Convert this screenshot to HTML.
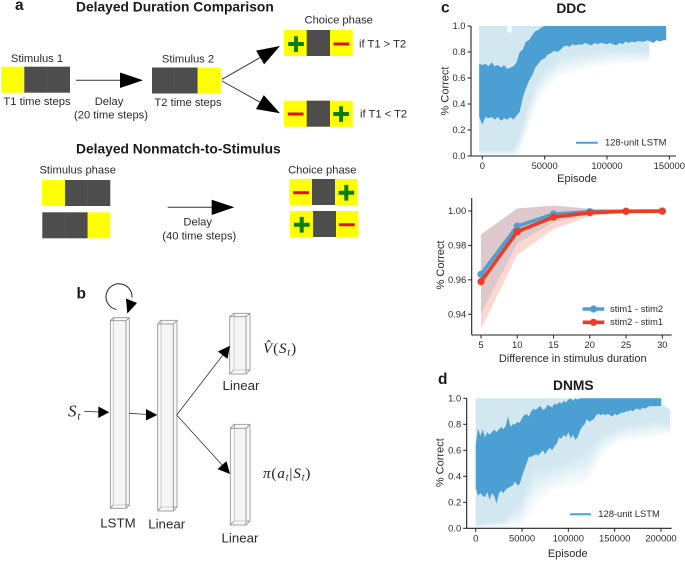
<!DOCTYPE html>
<html lang="en">
<head>
<meta charset="utf-8">
<title>Delayed Duration Comparison and DNMS figure</title>
<style>
html,body{margin:0;padding:0;background:#fff;}
svg{display:block;font-family:"Liberation Sans",sans-serif;fill:#2a2a2a;filter:blur(.3px);}
.t{font-size:11.2px;text-anchor:middle;}
.l{font-size:11.2px;}
.b{font-size:13.3px;text-anchor:middle;}
.h{font-size:13.8px;font-weight:bold;fill:#1a1a1a;}
.p{font-size:15.5px;font-weight:bold;fill:#1a1a1a;}
.m{font-family:"Liberation Serif",serif;font-size:15px;fill:#222;letter-spacing:.9px;}
.tick{font-size:9.4px;fill:#2a2a2a;}
.lab{font-size:11px;fill:#2a2a2a;}
.box{fill:#f2f2f2;fill-opacity:.55;stroke:#8c8c8c;stroke-width:.8;}
</style>
</head>
<body>
<svg id="fig" xmlns="http://www.w3.org/2000/svg" width="685" height="561" viewBox="0 0 685 561">
<rect x="0" y="0" width="685" height="561" fill="#fff"/>

<g>
  <text class="p" x="15" y="10">a</text>
  <text class="h" x="76" y="11.5">Delayed Duration Comparison</text>

  <text class="t" x="37" y="62">Stimulus 1</text>
  <g>
    <rect x="1.3" y="66.7" width="23" height="26" fill="#ffff00"/>
    <rect x="24.3" y="66.7" width="45.7" height="26" fill="#4d4d4d"/>
    <line x1="47" y1="66.7" x2="47" y2="92.7" stroke="#5c5c5c" stroke-width=".6"/>
  </g>
  <text class="t" x="37" y="105">T1 time steps</text>
  <g>
    <line x1="76" y1="80.3" x2="122" y2="80.3" stroke="#333" stroke-width="1"/>
    <polygon points="120,72.5 143,80.3 120,88" fill="#000"/>
  </g>
  <text class="t" x="109" y="105">Delay</text>
  <text class="t" x="111" y="118.7">(20 time steps)</text>

  <text class="t" x="188" y="62.5">Stimulus 2</text>
  <g>
    <rect x="152" y="67.5" width="45.7" height="26" fill="#4d4d4d"/>
    <line x1="174.5" y1="67.5" x2="174.5" y2="93.5" stroke="#5c5c5c" stroke-width=".6"/>
    <rect x="197.7" y="67.5" width="23" height="26" fill="#ffff00"/>
  </g>
  <text class="t" x="188" y="106">T2 time steps</text>

  <g>
    <line x1="222" y1="79.3" x2="262" y2="56.5" stroke="#333" stroke-width="1"/>
    <polygon points="280,46 264.1,64.4 256.1,50.6" fill="#000"/>
  </g>
  <g>
    <line x1="222" y1="81" x2="262" y2="103.3" stroke="#333" stroke-width="1"/>
    <polygon points="280,113.3 256,109.1 263.8,95.1" fill="#000"/>
  </g>

  <text class="t" x="338.7" y="23.3">Choice phase</text>
  <g>
    <rect x="284" y="30" width="68.7" height="26" fill="#ffff00"/>
    <rect x="306.7" y="30" width="23.3" height="26" fill="#4d4d4d"/>
    <path d="M288.2 44h15.7M296 36.2v15.7" stroke="#0a7d0a" stroke-width="4" fill="none"/>
    <path d="M333.5 44h15.7" stroke="#d81010" stroke-width="3" fill="none"/>
  </g>
  <text class="l" x="359" y="47.3">if T1 &gt; T2</text>
  <g>
    <rect x="284" y="100.7" width="68.7" height="26" fill="#ffff00"/>
    <rect x="306.7" y="100.7" width="23.3" height="26" fill="#4d4d4d"/>
    <path d="M287.8 114h15.7" stroke="#d81010" stroke-width="3" fill="none"/>
    <path d="M333.2 114h15.7M341 106.2v15.7" stroke="#0a7d0a" stroke-width="4" fill="none"/>
  </g>
  <text class="l" x="360" y="117.3">if T1 &lt; T2</text>

  <text class="h" x="76" y="153.5">Delayed Nonmatch-to-Stimulus</text>
  <text class="t" x="77.7" y="173.3">Stimulus phase</text>
  <g>
    <rect x="42" y="180" width="23" height="26" fill="#ffff00"/>
    <rect x="65" y="180" width="45.3" height="26" fill="#4d4d4d"/>
    <line x1="87.7" y1="180" x2="87.7" y2="206" stroke="#5c5c5c" stroke-width=".6"/>
  </g>
  <g>
    <rect x="42.3" y="212.3" width="45.4" height="26" fill="#4d4d4d"/>
    <line x1="65" y1="212.3" x2="65" y2="238.3" stroke="#5c5c5c" stroke-width=".6"/>
    <rect x="87.7" y="212.3" width="22.6" height="26" fill="#ffff00"/>
  </g>
  <g>
    <line x1="167.7" y1="207.3" x2="213" y2="207.3" stroke="#333" stroke-width="1"/>
    <polygon points="211.7,199.8 234.3,207.3 211.7,215" fill="#000"/>
  </g>
  <text class="t" x="197.7" y="225.7">Delay</text>
  <text class="t" x="199.3" y="239.3">(40 time steps)</text>
  <text class="t" x="322.3" y="173.3">Choice phase</text>
  <g>
    <rect x="289.3" y="179" width="68.4" height="26" fill="#ffff00"/>
    <rect x="312" y="179" width="23" height="26" fill="#4d4d4d"/>
    <path d="M293.2 192.7h15.7" stroke="#d81010" stroke-width="3" fill="none"/>
    <path d="M338.5 192.7h15.7M346.3 184.9v15.7" stroke="#0a7d0a" stroke-width="4" fill="none"/>
  </g>
  <g>
    <rect x="290" y="211" width="68.4" height="26" fill="#ffff00"/>
    <rect x="313" y="211" width="23" height="26" fill="#4d4d4d"/>
    <path d="M293.9 224.7h15.7M301.7 216.9v15.7" stroke="#0a7d0a" stroke-width="4" fill="none"/>
    <path d="M338.9 224.7h15.7" stroke="#d81010" stroke-width="3" fill="none"/>
  </g>
</g>

<g>
  <text class="p" x="76.5" y="298.5">b</text>
  <g>
    <path d="M116.5 309.5A13 13 0 1 1 132 297.5" fill="none" stroke="#222" stroke-width="1"/>
    <polygon points="126,298.5 137,303 127.3,313.5" fill="#000"/>
  </g>
  <g>
    <rect class="box" x="113.3" y="317.7" width="16" height="187.3"/>
    <rect class="box" x="110.3" y="320.7" width="15.7" height="187.6"/>
    <path class="box" d="M110.3 320.7L113.3 317.7M126 320.7L129.3 317.7M126 508.3L129.3 505M110.3 508.3L113.3 505"/>
  </g>
  <g>
    <rect class="box" x="161" y="320.3" width="16" height="186.7"/>
    <rect class="box" x="157.7" y="324" width="15.6" height="187"/>
    <path class="box" d="M157.7 324L161 320.3M173.3 324L177 320.3M173.3 511L177 507M157.7 511L161 507"/>
  </g>
  <g>
    <rect class="box" x="234" y="313.3" width="16" height="56.7"/>
    <rect class="box" x="229.7" y="316.7" width="16.3" height="57.3"/>
    <path class="box" d="M229.7 316.7L234 313.3M246 316.7L250 313.3M246 374L250 370M229.7 374L234 370"/>
  </g>
  <g>
    <rect class="box" x="234.3" y="424.3" width="15.7" height="96.7"/>
    <rect class="box" x="230.3" y="428.3" width="15.7" height="96.7"/>
    <path class="box" d="M230.3 428.3L234.3 424.3M246 428.3L250 424.3M246 525L250 521M230.3 525L234.3 521"/>
  </g>
  <g>
    <line x1="84.3" y1="411.3" x2="100" y2="412" stroke="#333" stroke-width=".8"/>
    <polygon points="98.3,406.5 109.3,412.3 98.3,418" fill="#000"/>
  </g>
  <g>
    <line x1="129" y1="413.3" x2="148" y2="414.5" stroke="#333" stroke-width=".8"/>
    <polygon points="146,409 157.3,415 146,420.5" fill="#000"/>
  </g>
  <g>
    <line x1="176.7" y1="415" x2="224" y2="353.5" stroke="#333" stroke-width=".8"/>
    <polygon points="230,345.7 227.5,358.9 217.9,351.5" fill="#000"/>
  </g>
  <g>
    <line x1="176.7" y1="415" x2="223" y2="466" stroke="#333" stroke-width=".8"/>
    <polygon points="230,474 217.5,469.1 226.5,461.1" fill="#000"/>
  </g>
  <text class="b" x="118" y="527.7">LSTM</text>
  <text class="b" x="166.7" y="528.3">Linear</text>
  <text class="b" x="241" y="390">Linear</text>
  <text class="b" x="240" y="542.3">Linear</text>
  <text class="m" x="68" y="416.7" style="font-size:17px;font-style:italic">S<tspan dy="3" style="font-size:11px">t</tspan></text>
  <text class="m" x="263" y="353"><tspan font-style="italic">V&#770;</tspan>(<tspan font-style="italic">S</tspan><tspan dy="2.5" font-size="10" font-style="italic">t</tspan><tspan dy="-2.5">)</tspan></text>
  <text class="m" x="263" y="478"><tspan font-style="italic">π</tspan>(<tspan font-style="italic">a</tspan><tspan dy="2.5" font-size="10" font-style="italic">t</tspan><tspan dy="-2.5">|</tspan><tspan font-style="italic">S</tspan><tspan dy="2.5" font-size="10" font-style="italic">t</tspan><tspan dy="-2.5">)</tspan></text>
</g>

<text class="p" x="441" y="12.5">c</text>
<text class="h" style="text-anchor:middle" x="571.3" y="13">DDC</text>
<g id="chartC"></g>
<g id="chartM"></g>
<text class="p" x="438" y="384">d</text>
<text class="h" style="text-anchor:middle" x="573.3" y="390">DNMS</text>
<g id="chartD"></g>
</svg>

<script>
// ---------- DDC learning curve ----------
const ddcEpisodes = [-2500,0,2500,5000,7500,10000,12500,15000,17500,20000,22500,25000,27500,30000,32500,35000,37500,40000,42500,45000,47500,50000,52500,55000,57500,60000,62500,65000,67500,70000,72500,75000,77500,80000,82500,85000,87500,90000,92500,95000,97500,100000,102500,105000,107500,110000,112500,115000,117500,120000,122500,125000,127500,130000,132500,135000,137500,140000,142500,145000,147500];
const ddcUpper = [.71,.70,.71,.69,.72,.69,.70,.68,.70,.67,.68,.69,.72,.80,.82,.88,.89,.93,.96,.97,.99,1,1,1,1,1,1,1,1,1,1,1,1,1,1,1,1,1,1,1,1,1,1,1,1,1,1,1,1,1,1,1,1,1,1,1,1,1,1,1,1];
const ddcLower = [.30,.24,.30,.29,.30,.28,.30,.27,.29,.28,.30,.28,.31,.34,.45,.52,.58,.62,.68,.71,.74,.75,.78,.79,.81,.80,.815,.84,.85,.84,.86,.85,.86,.855,.87,.86,.85,.87,.86,.87,.865,.86,.87,.86,.85,.87,.86,.88,.87,.88,.875,.885,.88,.88,.89,.88,.87,.89,.88,.89,.89];
const ddcLightEpisodes = [-2500,18000,20000,20001,23500,23501,25000,30000,38000,43500,50000,62000,84000,110000,134000];
const ddcLightUpper = [1,1,1,.95,.95,1,1,1,1,1,1,1,1,.99,.89];
const ddcLightInner = [.04,.04,.04,.04,.04,.04,.05,.17,.43,.58,.66,.76,.80,.815,.80];
const ddcLightOuter = [0,0,0,0,0,0,0,0,.25,.38,.50,.61,.67,.71,.72];
const ddcTicksX = [0,50000,100000,150000];
const ddcTicksY = [0,.2,.4,.6,.8,1];

// ---------- Stimulus duration accuracy ----------
const durations = [5,10,15,20,25,30];
const stim12 = [.9632,.9912,.9982,.9996,.9999,1.0];
const stim12Upper = [.9862,1.0015,1.003,1.0015,1.0005,1.0003];
const stim12Lower = [.9405,.9812,.9935,.998,.9993,.9997];
const stim21 = [.9590,.9880,.9965,.9990,.9998,.9999];
const stim21Upper = [.9865,1.0015,1.0032,1.0012,1.0004,1.0003];
const stim21Lower = [.9315,.9745,.9895,.997,.9992,.9995];
const durTicksY = [.94,.96,.98,1];
const seriesNames = ['stim1 - stim2','stim2 - stim1'];

// ---------- DNMS learning curve ----------
const dnmsEpisodes = [0,2500,5000,7500,10000,12500,15000,17500,20000,22500,25000,27500,30000,32500,35000,37500,40000,42500,45000,47500,50000,52500,55000,57500,60000,62500,65000,67500,70000,72500,75000,77500,80000,82500,85000,87500,90000,92500,95000,97500,100000,102500,105000,107500,110000,112500,115000,117500,120000,122500,125000,127500,130000,132500,135000,137500,140000,142500,145000,147500,150000,152500,155000,157500,160000,162500,165000,167500,170000,172500,175000,177500,180000,182500,185000,187500,190000,192500,195000,197500,200000];
const dnmsUpper = [.64,.77,.71,.76,.70,.74,.72,.74,.76,.74,.76,.78,.76,.79,.86,.78,.80,.80,.82,.81,.85,.87,.88,.86,.90,.92,.91,.93,.94,.91,.92,.95,.94,.93,.96,.95,.97,.96,.98,.97,.99,1,.98,1,.99,1,1,1,1,1,1,1,1,1,1,1,1,1,1,1,1,1,1,1,1,1,1,1,1,1,1,1,1,1,1,1,1,1,1,1,1];
const dnmsLower = [.31,.25,.27,.25,.24,.28,.22,.27,.25,.19,.27,.29,.27,.30,.31,.32,.33,.36,.33,.34,.40,.45,.50,.55,.55,.56,.57,.56,.58,.60,.57,.60,.62,.60,.63,.65,.70,.69,.72,.70,.74,.69,.72,.68,.70,.75,.78,.80,.84,.82,.83,.84,.87,.88,.87,.88,.87,.88,.87,.86,.88,.87,.88,.89,.89,.90,.90,.91,.90,.92,.92,.91,.93,.92,.93,.94,.94,.94,.94,.94,.94];
const dnmsLightEpisodes = [0,30000,48000,62000,84000,102000,120000,138000,156000,192000,201000,202000,210000];
const dnmsLightUpper = [1,1,1,1,1,1,1,1,1,1,1,.95,.91];
const dnmsLightInner = [.03,.06,.19,.45,.47,.53,.60,.73,.78,.83,.83,.82,.80];
const dnmsLightOuter = [0,0,0,.14,.30,.32,.35,.58,.67,.70,.71,.71,.72];
const dnmsTicksX = [0,50000,100000,150000,200000];
const dnmsTicksY = [0,.2,.4,.6,.8,1];

const NS = 'http://www.w3.org/2000/svg';
const BLUE = '#4c9fd3', RED = '#ee3b24';

function mk(parent, tag, props) {
  const e = document.createElementNS(NS, tag);
  for (const k in props) e.setAttribute(k, props[k]);
  parent.appendChild(e);
  return e;
}
function linear(d0, d1, r0, r1) { return v => r0 + (v - d0) * (r1 - r0) / (d1 - d0); }
function bandPoints(xs, upper, lower, sx, sy) {
  const a = xs.map((x, i) => sx(x).toFixed(2) + ',' + sy(upper[i]).toFixed(2));
  const b = xs.map((x, i) => sx(x).toFixed(2) + ',' + sy(lower[i]).toFixed(2)).reverse();
  return a.concat(b).join(' ');
}
function axes(g, o) {
  const left = mk(g, 'line', {x1:o.left, y1:o.top, x2:o.left, y2:o.bottom, stroke:'#222', 'stroke-width':1.1});
  
  
  const base = mk(g, 'line', {x1:o.left, y1:o.bottom, x2:o.right, y2:o.bottom, stroke:'#222', 'stroke-width':1.1});
  
  
  o.ticksY.forEach(v => {
    const y = o.sy(v);
    const tick = mk(g, 'line', {x1:o.left - 3.5, y1:y, x2:o.left, y2:y, stroke:'#222', 'stroke-width':1});
    
    
    const label = mk(g, 'text', {x:o.left - 5.5, y:y + 3.2, class:'tick', 'text-anchor':'end'});
    
    
    label.textContent = v.toFixed(o.digits);
  });
  o.ticksX.forEach(v => {
    const x = o.sx(v);
    const tick = mk(g, 'line', {x1:x, y1:o.bottom, x2:x, y2:o.bottom + 3.5, stroke:'#222', 'stroke-width':1});
    
    
    const label = mk(g, 'text', {x:x, y:o.bottom + 13.2, class:'tick', 'text-anchor':'middle'});
    
    
    label.textContent = String(v);
  });
  const xt = mk(g, 'text', {x:o.xTitle[0], y:o.xTitle[1], class:'lab', 'text-anchor':'middle'});
  
  
  xt.textContent = o.xLabel;
  const yt = mk(g, 'text', {transform:'translate(' + o.yTitle[0] + ',' + o.yTitle[1] + ') rotate(-90)', class:'lab', 'text-anchor':'middle'});
  
  
  yt.textContent = '% Correct';
}
function learningChart(g, o) {
  const layers = 8;
  for (let k = 1; k <= layers; k++) {
    const edge = o.lightOuter.map((v, i) => v + (o.lightInner[i] - v) * (k - 1) / (layers - 1));
    const shade = mk(g, 'polygon', {points: bandPoints(o.lightX, o.lightUpper, edge, o.sx, o.sy), fill: BLUE, 'fill-opacity': .037});
    
    
  }
  const band = mk(g, 'polygon', {points: bandPoints(o.xs, o.upper, o.lower, o.sx, o.sy), fill: BLUE});
  
  
  axes(g, o);
  const key = mk(g, 'line', {x1:o.legend[0], y1:o.legend[2], x2:o.legend[1], y2:o.legend[2], stroke:BLUE, 'stroke-width':2});
  
  
  const txt = mk(g, 'text', {x:o.legend[1] + 7.3, y:o.legend[2] + 2.9, class:'tick'});
  
  
  txt.textContent = '128-unit LSTM';
}

learningChart(document.getElementById('chartC'), {
  xs: ddcEpisodes, upper: ddcUpper, lower: ddcLower,
  lightX: ddcLightEpisodes, lightUpper: ddcLightUpper, lightInner: ddcLightInner, lightOuter: ddcLightOuter,
  sx: linear(0, 150000, 482.3, 669.3), sy: linear(0, 1, 156, 26),
  left: 471, right: 676, top: 26, bottom: 156,
  ticksX: ddcTicksX, ticksY: ddcTicksY, digits: 1,
  xLabel: 'Episode', xTitle: [577, 182], yTitle: [448.5, 91],
  legend: [576, 597.7, 142.7]
});
learningChart(document.getElementById('chartD'), {
  xs: dnmsEpisodes, upper: dnmsUpper, lower: dnmsLower,
  lightX: dnmsLightEpisodes, lightUpper: dnmsLightUpper, lightInner: dnmsLightInner, lightOuter: dnmsLightOuter,
  sx: linear(0, 200000, 475.7, 661), sy: linear(0, 1, 528.3, 398.3),
  left: 466.7, right: 671.7, top: 398.3, bottom: 528.3,
  ticksX: dnmsTicksX, ticksY: dnmsTicksY, digits: 1,
  xLabel: 'Episode', xTitle: [567.7, 557], yTitle: [443.5, 462.7],
  legend: [570, 591, 514.3]
});

(function () {
  const g = document.getElementById('chartM');
  const sx = linear(5, 30, 481, 662.3);
  const sy = linear(.94, 1, 314.3, 211);
  const bandA = mk(g, 'polygon', {points: bandPoints(durations, stim12Upper, stim12Lower, sx, sy), fill: '#4c9fd3', 'fill-opacity': .2});
  
  
  const bandB = mk(g, 'polygon', {points: bandPoints(durations, stim21Upper, stim21Lower, sx, sy), fill: '#ee3b24', 'fill-opacity': .2});
  
  
  axes(g, {
    left: 471.7, right: 671.7, top: 198, bottom: 335, sx, sy,
    ticksX: durations, ticksY: durTicksY, digits: 2,
    xLabel: 'Difference in stimulus duration', xTitle: [572.7, 362], yTitle: [444.2, 265]
  });
  [[stim12, BLUE, 'stim1-stim2'], [stim21, RED, 'stim2-stim1']].forEach(s => {
    const line = mk(g, 'polyline', {
      points: durations.map((d, i) => sx(d).toFixed(2) + ',' + sy(s[0][i]).toFixed(2)).join(' '),
      fill: 'none', stroke: s[1], 'stroke-width': 3.6
    });
    
    
    durations.forEach((d, i) => {
      const dot = mk(g, 'circle', {cx: sx(d), cy: sy(s[0][i]), r: 3.6, fill: s[1]});
      
      
    });
  });
  [[BLUE, 309], [RED, 322.3]].forEach((s, i) => {
    const key = mk(g, 'line', {x1:582.7, y1:s[1], x2:604.3, y2:s[1], stroke:s[0], 'stroke-width':3.6});
    
    
    const dot = mk(g, 'circle', {cx:593.5, cy:s[1], r:3.6, fill:s[0]});
    
    
    const txt = mk(g, 'text', {x:610, y:s[1] + 2.8, class:'tick'});
    
    
    txt.textContent = seriesNames[i];
  });
})();
</script>
</body>
</html>
